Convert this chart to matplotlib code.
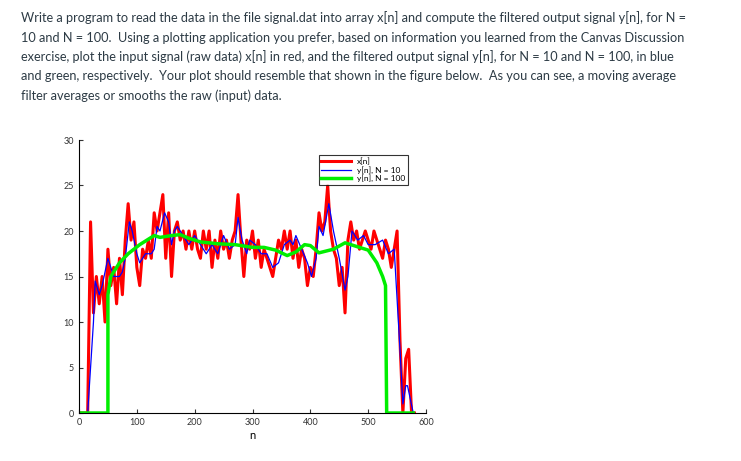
import numpy as np
import matplotlib
matplotlib.use("Agg")
import matplotlib.pyplot as plt

plt.rcParams["font.family"] = ["Lato", "DejaVu Sans"]

# raw signal x[n], sampled every 5
n_x = list(range(0, 585, 5))
x_vals = [0, 0, 0, 0, 21, 11, 15, 12, 15, 10, 18, 14, 16, 12, 17, 13, 19, 23, 19, 21,
          16, 14, 18, 17, 19, 17, 22, 20, 22, 24, 17, 22, 15, 20, 21, 19, 20, 18, 20, 18,
          20, 18, 17, 20, 18, 20, 16, 19, 17, 20, 18, 19, 17, 19, 20, 24, 19, 15, 19, 18,
          20, 17, 19, 16, 18, 17, 16, 15, 17, 19, 18, 20, 18, 20, 17, 19, 16, 18, 17, 14,
          16, 15, 18, 22, 20, 21, 25, 20, 18, 17, 14, 16, 11, 19, 21, 19, 20, 18, 19, 20,
          19, 18, 20, 19, 18, 17, 19, 18, 16, 18, 20, 8, 0, 6, 7, 0, 0]

# moving average, N = 10
n_y10 = [0, 15, 25, 28, 35, 40, 50, 60, 70, 75, 80, 87, 92, 100, 105, 115, 125, 130, 135,
         140, 148, 155, 160, 165, 170, 180, 190, 200, 210, 220, 230, 240, 250, 260, 270,
         275, 282, 290, 295, 305, 315, 325, 335, 345, 355, 365, 370, 375, 385, 395, 402,
         410, 415, 422, 432, 440, 450, 460, 465, 472, 482, 492, 500, 512, 525, 535, 545,
         555, 560, 565, 568, 578]
y10_vals = [0, 0, 10, 14.5, 13, 14, 17, 15, 15, 15.5, 17, 21, 20, 17.5, 16.5, 17.5, 17.5,
            18, 20.5, 20, 22, 21, 18.5, 20, 20.5, 19.5, 18.5, 19.5, 18.5, 17.5, 18.5, 17.5,
            19.5, 18, 18.5, 21.5, 19, 17.5, 19, 18.5, 17.5, 17.5, 16, 16.5, 18.5, 19, 18.5,
            19.5, 18, 16.5, 15, 17, 20.5, 19.5, 23, 20, 17, 13.5, 15, 20, 19, 19.5, 18.5,
            18.5, 19, 17.5, 18, 7, 1, 3, 3, 0]

# moving average, N = 100
n_y100 = [0, 50, 50, 55, 70, 85, 105, 130, 140, 160, 175, 190, 210, 240, 270, 300, 320,
          340, 360, 375, 390, 400, 415, 440, 460, 480, 500, 515, 525, 530, 532, 578]
y100_vals = [0, 0, 13, 15, 16.5, 17.5, 18.5, 19.5, 19.3, 19.5, 19.6, 19.2, 18.8, 18.6,
             18.5, 18.2, 18.2, 17.9, 17.3, 17.7, 18.5, 18.4, 17.6, 18, 18.7, 18.3, 17.9,
             16.5, 15, 14, 0, 0]

paragraph = [
    "Write a program to read the data in the file signal.dat into array x[n] and compute the filtered output signal y[n], for N =",
    "10 and N = 100.  Using a plotting application you prefer, based on information you learned from the Canvas Discussion",
    "exercise, plot the input signal (raw data) x[n] in red, and the filtered output signal y[n], for N = 10 and N = 100, in blue",
    "and green, respectively.  Your plot should resemble that shown in the figure below.  As you can see, a moving average",
    "filter averages or smooths the raw (input) data.",
]

fig = plt.figure(figsize=(7.41, 4.61), dpi=100)
for i, line in enumerate(paragraph):
    fig.text(21 / 741, 1 - (18 + 19.5 * i) / 461, line, fontsize=9.2,
             color="#2d3b45", va="center", ha="left")

ax = fig.add_axes([79 / 741, 48 / 461, 347 / 741, 273 / 461])
ax.plot(n_x, x_vals, color="red", lw=2.2, label="x[n]")
ax.plot(n_y10, y10_vals, color="blue", lw=0.9, label="y[n], N = 10")
ax.plot(n_y100, y100_vals, color="#00ee00", lw=2.5, label="y[n], N = 100")
ax.set_xlim(0, 600)
ax.set_ylim(0, 30)
ax.set_xticks(range(0, 700, 100))
ax.set_yticks(range(0, 35, 5))
ax.tick_params(labelsize=6.5, direction="in", length=3, colors="#333333")
ax.spines["top"].set_visible(False)
ax.spines["right"].set_visible(False)
ax.set_xlabel("n", fontsize=8, labelpad=2)
leg = ax.legend(loc="upper right", fontsize=6, frameon=True, fancybox=False,
                edgecolor="black", borderpad=0.3, handlelength=3.5, labelspacing=0.1,
                bbox_to_anchor=(0.96, 0.96))
leg.get_frame().set_linewidth(0.8)

fig.savefig("out.png", dpi=100)
